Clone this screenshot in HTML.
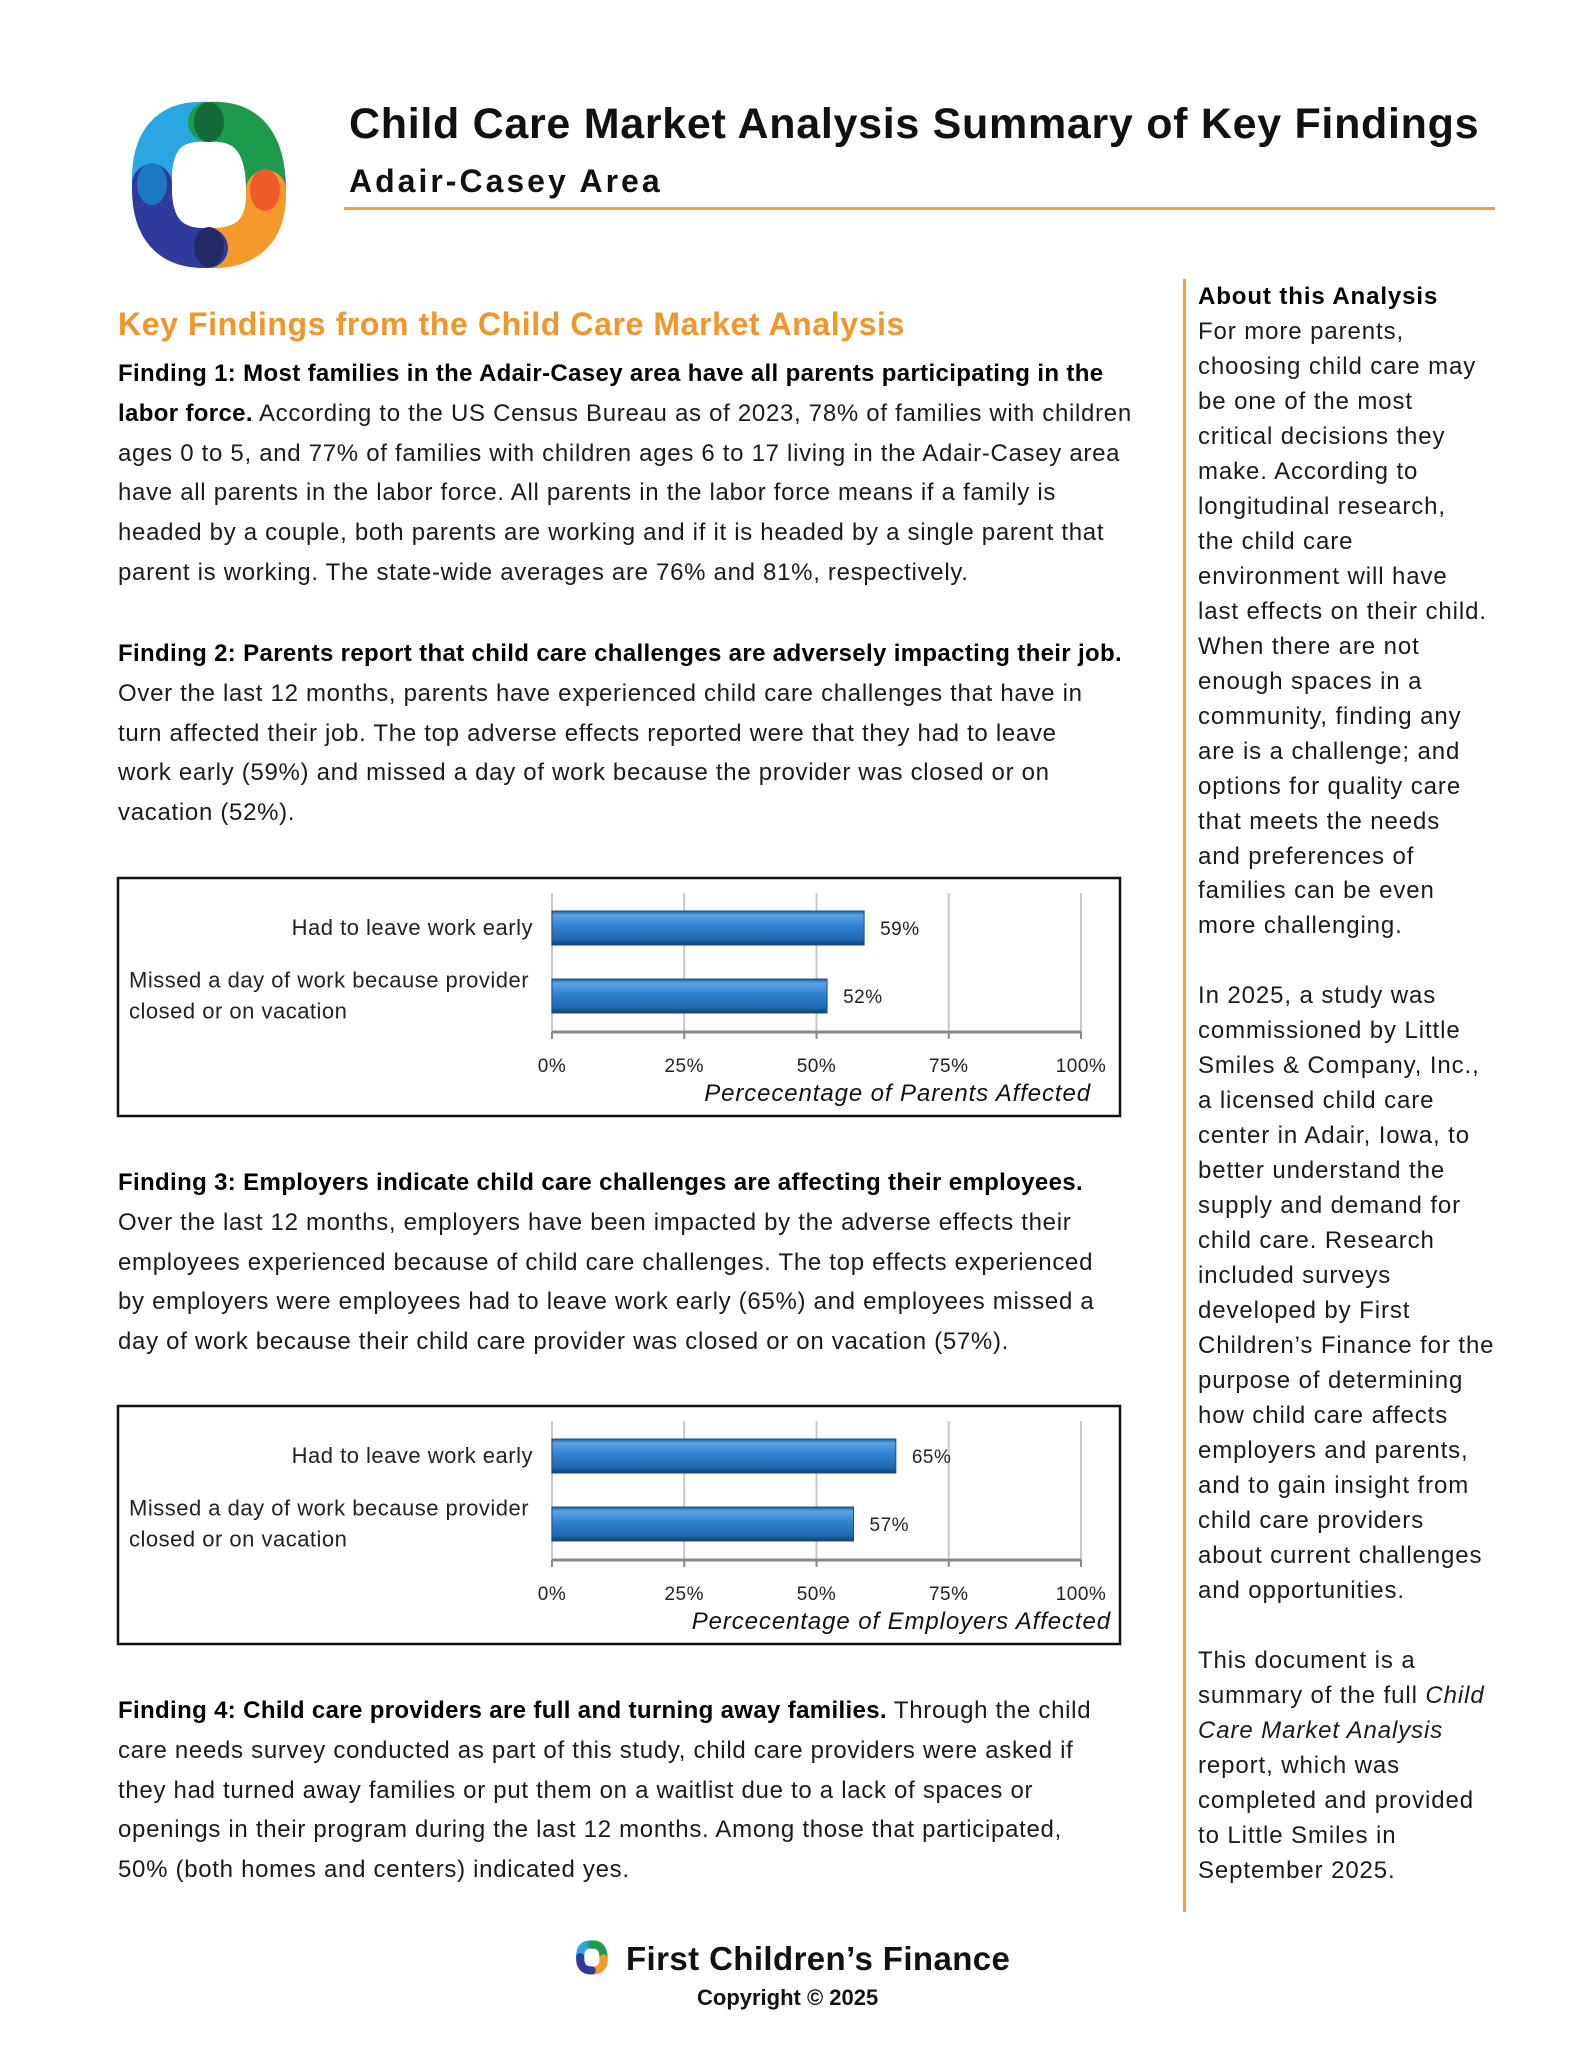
<!DOCTYPE html>
<html><head><meta charset="utf-8">
<style>
html,body{margin:0;padding:0;background:#fff;}
body{width:1583px;height:2048px;position:relative;overflow:hidden;font-family:"Liberation Sans",sans-serif;color:#111;}
.abs{position:absolute;white-space:nowrap;}
.body{position:absolute;left:118px;font-size:24px;letter-spacing:0.7px;line-height:39.8px;white-space:nowrap;color:#1a1a1a;}
.body b{letter-spacing:0.35px;}
.side{position:absolute;left:1198px;top:280px;font-size:24px;letter-spacing:0.9px;line-height:34.97px;white-space:nowrap;color:#1a1a1a;}
b{font-weight:bold;color:#000;}
</style></head>
<body>
<svg class="abs" style="left:117px;top:95px" width="185" height="185" viewBox="117 95 185 185">
 <g fill="none" stroke-width="40" stroke-linecap="round">
  <path d="M208 122 Q150 118 152 184" stroke="#2aa6e0"/>
  <path d="M208 122 Q266 118 266 190" stroke="#1e9a4c"/>
  <path d="M266 190 Q268 250 208 248" stroke="#f39a2a"/>
  <path d="M208 248 Q150 250 152 184" stroke="#2f3b9c"/>
 </g>
 <ellipse cx="209" cy="122" rx="15" ry="20" fill="#136b3a"/>
 <ellipse cx="152" cy="184" rx="15" ry="21" fill="#1d78c4"/>
 <ellipse cx="265" cy="190" rx="15" ry="21" fill="#ee5a2a"/>
 <ellipse cx="209" cy="247" rx="15" ry="20" fill="#232a66"/>
</svg>
<div class="abs" style="left:349px;top:100px;font-size:43px;letter-spacing:0.7px;font-weight:bold;">Child Care Market Analysis Summary of Key Findings</div>
<div class="abs" style="left:349px;top:163px;font-size:32px;letter-spacing:3px;font-weight:bold;">Adair-Casey Area</div>
<div class="abs" style="left:344px;top:207px;width:1151px;height:3px;background:#f0a040;"></div>

<div class="abs" style="left:118px;top:306px;font-size:32px;letter-spacing:0.6px;font-weight:bold;color:#f0962a;">Key Findings from the Child Care Market Analysis</div>

<div class="body" style="top:354px;"><b>Finding 1: Most families in the Adair-Casey area have all parents participating in the</b><br><b>labor force.</b> According to the US Census Bureau as of 2023, 78% of families with children<br>ages 0 to 5, and 77% of families with children ages 6 to 17 living in the Adair-Casey area<br>have all parents in the labor force. All parents in the labor force means if a family is<br>headed by a couple, both parents are working and if it is headed by a single parent that<br>parent is working. The state-wide averages are 76% and 81%, respectively.</div>

<div class="body" style="top:634px;"><b>Finding 2: Parents report that child care challenges are adversely impacting their job.</b><br>Over the last 12 months, parents have experienced child care challenges that have in<br>turn affected their job. The top adverse effects reported were that they had to leave<br>work early (59%) and missed a day of work because the provider was closed or on<br>vacation (52%).</div>

<svg id="chart1" class="abs" style="left:0;top:0" width="1583" height="2048"></svg>

<div class="body" style="top:1163px;"><b>Finding 3: Employers indicate child care challenges are affecting their employees.</b><br>Over the last 12 months, employers have been impacted by the adverse effects their<br>employees experienced because of child care challenges. The top effects experienced<br>by employers were employees had to leave work early (65%) and employees missed a<br>day of work because their child care provider was closed or on vacation (57%).</div>

<div class="body" style="top:1691px;"><b>Finding 4: Child care providers are full and turning away families.</b> Through the child<br>care needs survey conducted as part of this study, child care providers were asked if<br>they had turned away families or put them on a waitlist due to a lack of spaces or<br>openings in their program during the last 12 months. Among those that participated,<br>50% (both homes and centers) indicated yes.</div>

<div class="abs" style="left:1183px;top:279px;width:3px;height:1633px;background:#f0a040;"></div>
<div class="side"><b>About this Analysis</b><br>For more parents,<br>choosing child care may<br>be one of the most<br>critical decisions they<br>make. According to<br>longitudinal research,<br>the child care<br>environment will have<br>last effects on their child.<br>When there are not<br>enough spaces in a<br>community, finding any<br>are is a challenge; and<br>options for quality care<br>that meets the needs<br>and preferences of<br>families can be even<br>more challenging.<br><br>In 2025, a study was<br>commissioned by Little<br>Smiles &amp; Company, Inc.,<br>a licensed child care<br>center in Adair, Iowa, to<br>better understand the<br>supply and demand for<br>child care. Research<br>included surveys<br>developed by First<br>Children’s Finance for the<br>purpose of determining<br>how child care affects<br>employers and parents,<br>and to gain insight from<br>child care providers<br>about current challenges<br>and opportunities.<br><br>This document is a<br>summary of the full <i>Child</i><br><i>Care Market Analysis</i><br>report, which was<br>completed and provided<br>to Little Smiles in<br>September 2025.</div>

<svg class="abs" style="left:573px;top:1938px" width="38" height="40" viewBox="117 95 185 185">
 <g fill="none" stroke-width="40" stroke-linecap="round">
  <path d="M208 122 Q150 118 152 184" stroke="#2aa6e0"/>
  <path d="M208 122 Q266 118 266 190" stroke="#1e9a4c"/>
  <path d="M266 190 Q268 250 208 248" stroke="#f39a2a"/>
  <path d="M208 248 Q150 250 152 184" stroke="#2f3b9c"/>
 </g>
</svg>
<div class="abs" style="left:626px;top:1940px;font-size:33px;letter-spacing:0.4px;font-weight:bold;">First Children’s Finance</div>
<div class="abs" style="left:697px;top:1985px;font-size:22px;font-weight:bold;">Copyright © 2025</div>

<script>
const categories = ["Had to leave work early", "Missed a day of work because provider|closed or on vacation"];
const parentValues = [59, 52];
const employerValues = [65, 57];
const tickValues = [0, 25, 50, 75, 100];
const tickLabels = ["0%", "25%", "50%", "75%", "100%"];
const titles = ["Percecentage of Parents Affected", "Percecentage of Employers Affected"];

const svg = document.getElementById('chart1');
const NS = 'http://www.w3.org/2000/svg';
function mk(tag, attrs, parent){
  const e = document.createElementNS(NS, tag);
  for (const k in attrs) e.setAttribute(k, attrs[k]);
  (parent||svg).appendChild(e);
  return e;
}
const defs = mk('defs', {});
const grad = mk('linearGradient', {id:'barg', x1:0, y1:0, x2:0, y2:1}, defs);
[['0','#1f5f9e'],['0.12','#5aa3e4'],['0.45','#2f82cf'],['0.85','#1f67ad'],['1','#123f6e']].forEach(s=>mk('stop',{offset:s[0],'stop-color':s[1]},grad));

function drawChart(dy, values, title, titleRight, idx){
  const g = mk('g', {});
  
  
  const x0 = 552, x1 = 1081;
  const xs = v => x0 + (x1 - x0) * v / 100;
  const box = mk('rect', {x:118, y:878+dy, width:1002, height:238, fill:'#fff', stroke:'#111', 'stroke-width':2.5}, g);
  
  
  tickValues.forEach((t, i) => {
    const gl = mk('line', {x1:xs(t), x2:xs(t), y1:893+dy, y2:1032+dy, stroke:'#c8c8c8', 'stroke-width':2}, g);
    
    
    mk('line', {x1:xs(t), x2:xs(t), y1:1032+dy, y2:1039+dy, stroke:'#888', 'stroke-width':2}, g);
    const tl = mk('text', {x:xs(t), y:1072+dy, 'text-anchor':'middle', 'font-size':19, 'letter-spacing':0.5, fill:'#222', 'font-family':'Liberation Sans, sans-serif'}, g);
    tl.textContent = tickLabels[i];
    
    
  });
  const ax = mk('line', {x1:x0, x2:x1, y1:1032+dy, y2:1032+dy, stroke:'#888', 'stroke-width':3}, g);
  
  
  const bandTop = 893 + dy, band = 68;
  values.forEach((v, i) => {
    const yTop = bandTop + 18 + i * band;
    const b = mk('rect', {x:x0, y:yTop, width:xs(v)-x0, height:34, fill:'url(#barg)', stroke:'#1a5088', 'stroke-width':1}, g);
    
    
    const vl = mk('text', {x:xs(v)+16, y:yTop+24, 'font-size':19, 'letter-spacing':0.5, fill:'#222', 'font-family':'Liberation Sans, sans-serif'}, g);
    vl.textContent = v + '%';
    
    
    const lines = categories[i].split('|');
    lines.forEach((ln, j) => {
      const anchor = lines.length > 1 ? 'start' : 'end';
      const cx = lines.length > 1 ? 129 : 533;
      const cy = yTop + 24 + (j - (lines.length-1)/2) * 31;
      const cl = mk('text', {x:cx, y:cy, 'text-anchor':anchor, 'font-size':22, 'letter-spacing':0.5, fill:'#222', 'font-family':'Liberation Sans, sans-serif'}, g);
      cl.textContent = ln;
      
      
    });
  });
  const at = mk('text', {x:titleRight, y:1101+dy, 'text-anchor':'end', 'font-size':24, 'letter-spacing':0.9, 'font-style':'italic', fill:'#111', 'font-family':'Liberation Sans, sans-serif'}, g);
  at.textContent = title;
  
  
}
drawChart(0, parentValues, titles[0], 1091, 1);
drawChart(528, employerValues, titles[1], 1111, 2);
</script>
</body></html>
